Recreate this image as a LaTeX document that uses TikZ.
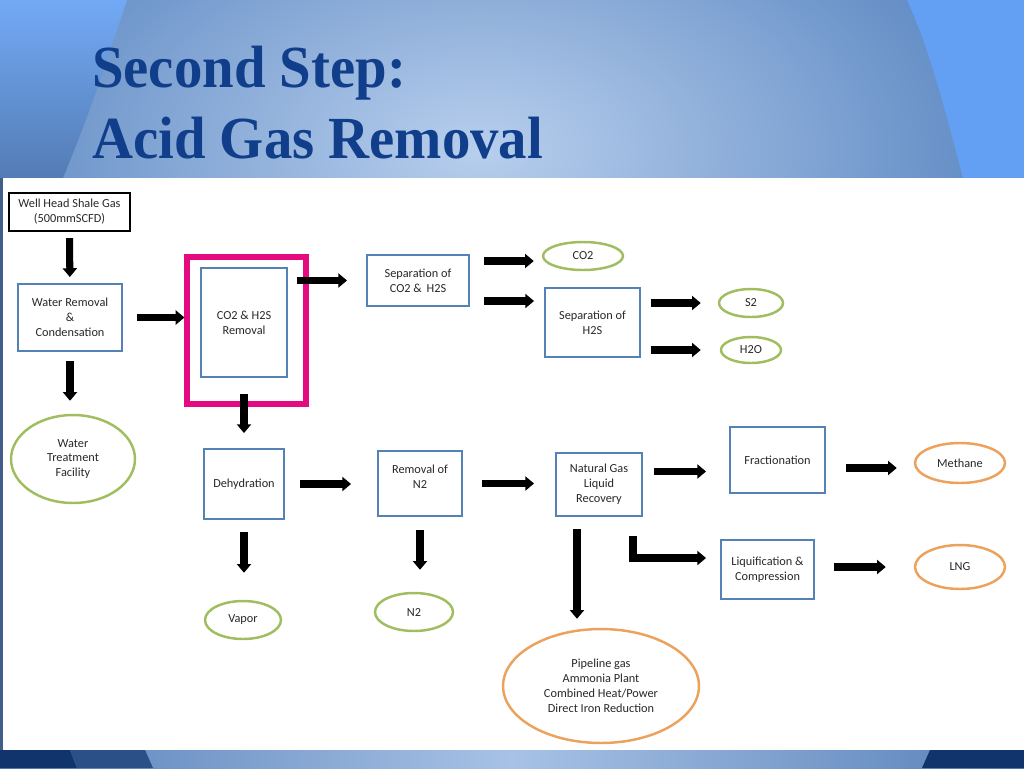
\documentclass[tikz,border=0pt]{standalone}
\usepackage{fontspec}
\newfontfamily\boxfont{Carlito}
\newfontfamily\titlefont[FakeStretch=0.95]{Liberation Serif}
\usetikzlibrary{calc,positioning,arrows.meta,shapes.geometric}

\definecolor{titleblue}{RGB}{16,62,138}
\definecolor{boxblue}{RGB}{84,130,182}
\definecolor{leafgreen}{RGB}{160,190,95}
\definecolor{warmorange}{RGB}{236,162,92}
\definecolor{framepink}{RGB}{228,10,128}
\definecolor{textgray}{RGB}{40,40,40}
\definecolor{skylight}{RGB}{184,207,237}
\definecolor{skydark}{RGB}{100,142,198}
\definecolor{bandblue}{RGB}{99,160,244}
\definecolor{navy}{RGB}{18,52,108}

\tikzset{
   stepbox/.style={rectangle, draw=boxblue, line width=1.1pt, fill=white, text=textgray, align=center, font=\boxfont\fontsize{7}{8.5}\selectfont},
   feed box/.style={stepbox, draw=black, line width=1.3pt},
   outlet/.style={ellipse, draw=leafgreen, line width=1.4pt, fill=white, text=textgray, inner sep=0pt, align=center, font=\boxfont\fontsize{7}{8.5}\selectfont},
   product/.style={outlet, draw=warmorange},
   flow/.style={->, line width=4pt},
   title/.style={anchor=base west, text=titleblue, font=\titlefont\bfseries\fontsize{34}{40}\selectfont},
   >={Triangle[length=5pt,width=8pt]}
}

\begin{document}
\begin{tikzpicture}[x=0.02cm,y=-0.02cm]

  \useasboundingbox (0,0) rectangle (1024,768);

  %%%%%%%%%%% slide background

  \begin{scope}
    \clip (0,0) rectangle (1024,178);
    \fill[skydark] (0,0) rectangle (1024,178);
    \shade[inner color=skylight, outer color=skydark] (-20,-150) rectangle (980,450);
  \end{scope}
  \shade[top color=bandblue!90!white, bottom color=skydark!80!navy] (0,0) -- (127,0) .. controls (110,50) and (95,100) .. (63,178) -- (0,178) -- cycle;
  \fill[bandblue] (907,0) -- (1024,0) -- (1024,178) -- (963,178) .. controls (945,110) and (930,50) .. (907,0) -- cycle;
  \fill[white] (0,178) rectangle (1024,750);
  \fill[navy!80] (0,178) rectangle (3,750);
  \shade[left color=skydark!85!navy, right color=skydark!85!navy, middle color=skylight!80!skydark] (0,750) rectangle (1024,768);
  \fill[navy] (0,750) -- (70,750) -- (77,768) -- (0,768) -- cycle;
  \fill[navy!70!skydark] (70,750) -- (145,750) -- (153,768) -- (77,768) -- cycle;
  \fill[navy] (930,750) -- (1024,750) -- (1024,768) -- (922,768) -- cycle;

  \node[title] at (86,87)  (title1) {Second Step:};
  \node[title] at (86,158) (title2) {Acid Gas Removal};

  %%%%%%%%%%% process boxes

  \node[feed box, minimum width=2.42cm, minimum height=0.76cm] at (69.5,212) (well)  {Well Head Shale Gas\\(500mmSCFD)};
  \node[stepbox, minimum width=2.08cm, minimum height=1.34cm] at (70,317.5)  (water) {Water Removal\\\&\\Condensation};

  \node[rectangle, draw=framepink, line width=2.9pt, minimum width=2.38cm, minimum height=2.94cm] at (246.5,330.5) (agr) {};
  \node[stepbox, minimum width=1.72cm, minimum height=2.18cm] at (244,322.5)  (co2h2s) {CO2 \& H2S\\Removal};

  \node[stepbox, minimum width=2.04cm, minimum height=1.02cm] at (418,280.5)  (sep1)  {Separation of\\CO2 \& \,H2S};
  \node[stepbox, minimum width=1.90cm, minimum height=1.38cm] at (592.5,322.5) (sep2) {Separation of\\H2S};

  \node[stepbox, minimum width=1.60cm, minimum height=1.40cm] at (244,484)    (dehyd) {Dehydration};
  \node[stepbox, minimum width=1.68cm, minimum height=1.30cm] at (420,483.5)  (remn2) {Removal of\\N2\\[-0.5pt]};
  \node[stepbox, minimum width=1.72cm, minimum height=1.26cm] at (599,484.5)  (ngl)   {Natural Gas\\Liquid\\Recovery};
  \node[stepbox, minimum width=1.90cm, minimum height=1.32cm] at (777.5,460)  (frac)  {Fractionation};
  \node[stepbox, minimum width=1.86cm, minimum height=1.18cm] at (767.5,569.5) (liq)  {Liquification \&\\Compression};

  %%%%%%%%%%% outlets

  \node[outlet, minimum width=2.48cm, minimum height=1.76cm] at (73,459)  (wtf)   {Water\\Treatment\\Facility};
  \node[outlet, minimum width=1.60cm, minimum height=0.56cm] at (583,256)  (co2)   {CO2};
  \node[outlet, minimum width=1.28cm, minimum height=0.56cm] at (751,303)  (s2)    {S2};
  \node[outlet, minimum width=1.20cm, minimum height=0.52cm] at (751,350)  (h2o)   {H2O};
  \node[outlet, minimum width=1.52cm, minimum height=0.76cm] at (243,620)  (vapor) {Vapor};
  \node[outlet, minimum width=1.56cm, minimum height=0.76cm] at (414,612)  (n2)    {N2};

  \node[product, minimum width=1.80cm, minimum height=0.80cm] at (960,463) (methane) {Methane};
  \node[product, minimum width=1.80cm, minimum height=0.88cm] at (960,567) (lng)     {LNG};
  \node[product, minimum width=3.92cm, minimum height=2.28cm] at (601,686) (pipe)    {Pipeline gas\\Ammonia Plant\\Combined Heat/Power\\Direct Iron Reduction};

  \coordinate (ngldrop) at ($(ngl.south)+(-22,0)$);

  %%%%%%%%%%% flows

  \draw[flow, shorten <=0.12cm, shorten >=0.12cm] (well) -- (water);
  \draw[flow, shorten <=0.18cm, shorten >=0.26cm] (water.south) -- (water.south |- wtf.north);
  \draw[flow, shorten <=0.28cm] (water.east) -- (water.east -| agr.west);

  \draw[flow, shorten <=0.18cm, shorten >=0.38cm] (co2h2s.east |- sep1.west) -- (sep1.west);
  \draw[flow, shorten <=0.32cm, shorten >=0.30cm] (co2h2s.south) -- (dehyd.north);

  \draw[flow, shorten <=0.28cm, shorten >=0.16cm] ($(sep1.east |- co2.west)+(0,5)$) -- ($(co2.west)+(0,5)$);
  \draw[flow, shorten <=0.28cm, shorten >=0.20cm] ($(sep1.east)+(0,20.5)$) -- ($(sep2.west |- sep1.east)+(0,20.5)$);
  \draw[flow, shorten <=0.20cm, shorten >=0.34cm] (sep2.east |- s2.west) -- (s2.west);
  \draw[flow, shorten <=0.20cm, shorten >=0.38cm] (sep2.east |- h2o.west) -- (h2o.west);

  \draw[flow, shorten <=0.30cm, shorten >=0.52cm] (dehyd.east) -- (dehyd.east -| remn2.west);
  \draw[flow, shorten <=0.24cm, shorten >=0.54cm] (dehyd.south) -- (dehyd.south |- vapor.north);
  \draw[flow, shorten <=0.38cm, shorten >=0.42cm] (remn2.east) -- (remn2.east -| ngl.west);
  \draw[flow, shorten <=0.26cm, shorten >=0.44cm] (remn2.south) -- (remn2.south |- n2.north);

  \draw[flow, shorten <=0.22cm, shorten >=0.46cm] ($(ngl.east)+(0,-13)$) -- ($(frac.west |- ngl.east)+(0,-13)$);
  \draw[flow, shorten >=0.28cm] ($(ngl.south)+(34,19)$) |- ($(liq.west)+(0,-11.5)$);
  \draw[flow, shorten <=0.24cm, shorten >=0.18cm] (ngldrop) -- (ngldrop |- pipe.north);

  \draw[flow, shorten <=0.40cm, shorten >=0.34cm] ($(frac.east |- methane.west)+(0,5)$) -- ($(methane.west)+(0,5)$);
  \draw[flow, shorten <=0.38cm, shorten >=0.56cm] (liq.east |- lng.west) -- (lng.west);

\end{tikzpicture}
\end{document}
